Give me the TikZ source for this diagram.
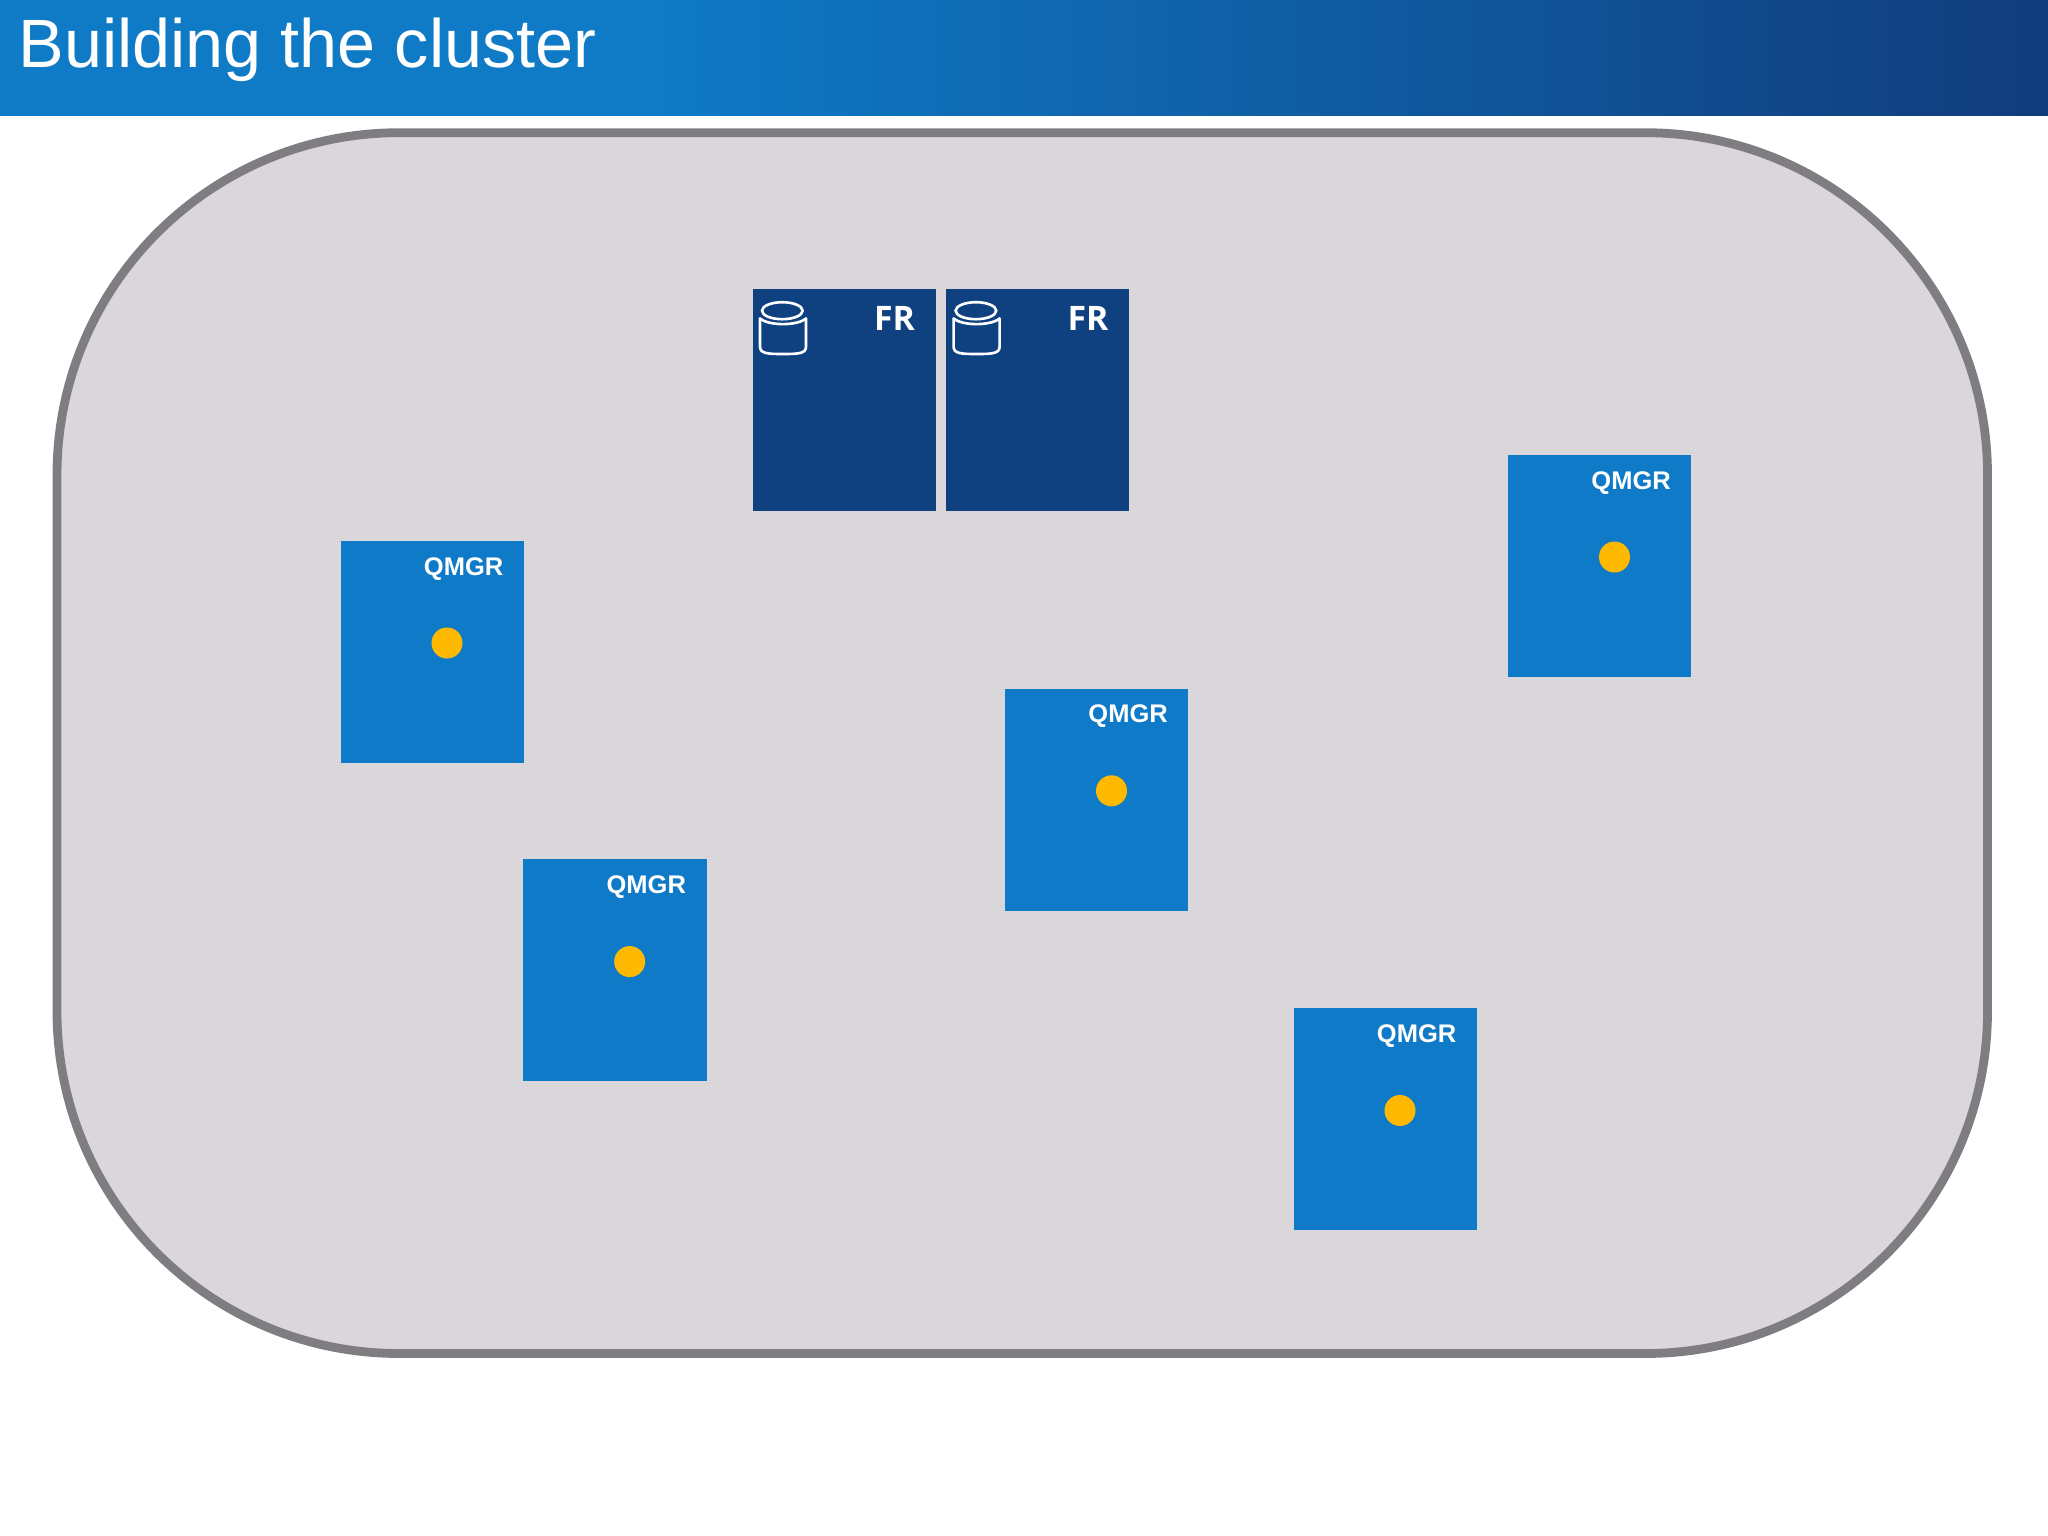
\documentclass[tikz,border=0pt]{standalone}
\usepackage{fontspec}
\setmainfont{Liberation Sans}
\newfontfamily\frfont{Open Sans}
\usetikzlibrary{calc}
\definecolor{barblue}{HTML}{0F7AC6}
\definecolor{bardark}{HTML}{113C7C}
\definecolor{qmgrblue}{HTML}{0F7AC7}
\definecolor{frblue}{HTML}{0F4080}
\definecolor{clusterfill}{HTML}{D9D7DA}
\definecolor{clusterline}{HTML}{7F7D81}
\definecolor{dotyellow}{HTML}{FFB900}
\pgfdeclarehorizontalshading{barshade}{100bp}{color(0bp)=(barblue); color(41bp)=(barblue); color(75bp)=(bardark); color(100bp)=(bardark)}
\tikzset{
    cluster/.style={draw=clusterline, fill=clusterfill, line width=2.5pt, rounded corners=3.42cm},
    qmgrbox/.style={fill=qmgrblue, inner sep=0pt, minimum width=1.83cm, minimum height=2.22cm, anchor=north west},
    frbox/.style={fill=frblue, inner sep=0pt, minimum width=1.83cm, minimum height=2.22cm, anchor=north west},
    boxlabel/.style={text=white, inner sep=0pt},
    qdot/.style={fill=dotyellow, circle, inner sep=0pt, minimum size=0.31cm},
    cyl/.style={draw=white, line width=0.75pt}
}

\begin{document}
\begin{tikzpicture}[x=0.01cm, y=-0.01cm]
    % Page
    \fill[white] (0,0) rectangle (2048,1536);
    % Title bar
    \shade[shading=barshade] (0,0) rectangle (2048,115);
    \node[boxlabel, anchor=base west, font=\fontsize{19.45}{23}\selectfont] (title) at (17.8,67.8) {Building the cluster};
    % Cluster outline
    \draw[cluster] (57,132.7) rectangle (1987.5,1353.5);
    % Full repositories
    \foreach \name/\x/\y in {a/752/288.5, b/945.6/288.5} {
        \node[frbox] (fr\name) at (\x,\y) {};
        \node[boxlabel, font=\frfont\fontsize{9.6}{12}\selectfont\bfseries] (frlabel\name) at ($(fr\name.north west)+(142.5,30)$) {FR};
        \begin{scope}[shift={(fr\name.north west)}]
            \draw[cyl] (30.3,22.2) ellipse (20.3 and 8.5);
            \draw[cyl, line cap=round] (8,30) .. controls (17,37.5) and (45,37.5) .. (54,30);
            \draw[cyl, line cap=round] (8,30) -- (8,58) .. controls (8,65) and (15,65.5) .. (31,65.5) .. controls (47,65.5) and (54,65) .. (54,58) -- (54,30);
        \end{scope}
    }
    % Queue managers
    \foreach \name/\x/\y in {a/340/540, b/522.7/858.6, c/1004.5/687.8, d/1507.5/454, e/1293/1007.5} {
        \node[qmgrbox] (q\name) at (\x,\y) {};
        \node[boxlabel, font=\fontsize{7.25}{9}\selectfont\bfseries] (qlabel\name) at ($(q\name.north west)+(123.6,28.6)$) {QMGR};
        \node[qdot] (qdot\name) at ($(q\name.north west)+(107,103)$) {};
    }
\end{tikzpicture}
\end{document}
